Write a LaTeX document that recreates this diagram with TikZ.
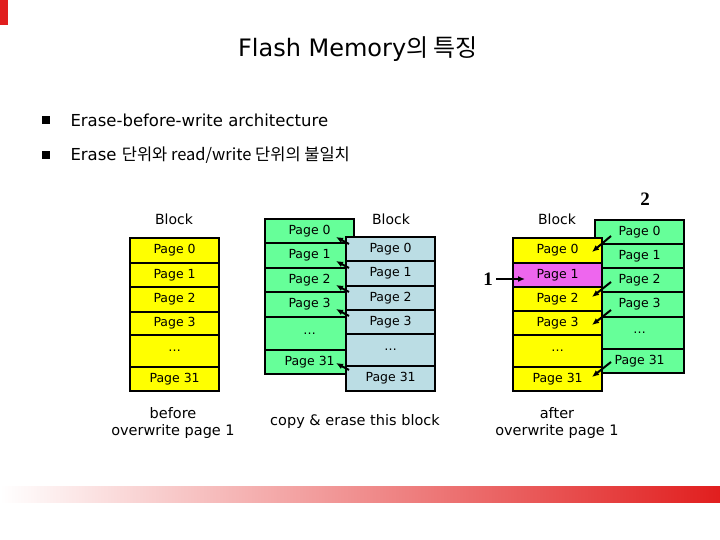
\documentclass[tikz,border=0pt]{standalone}
\usepackage{fontspec}
\setmainfont{DejaVu Sans}
\newfontfamily\kor{Noto Sans CJK KR}
\newfontfamily\numf{Liberation Serif}
\usetikzlibrary{positioning,arrows.meta}
\definecolor{cellyellow}{RGB}{255,255,0}
\definecolor{cellgreen}{RGB}{102,255,153}
\definecolor{cellblue}{RGB}{187,221,228}
\definecolor{cellpink}{RGB}{238,102,238}
\definecolor{barred}{RGB}{225,30,30}
\tikzset{
  cell/.style={draw, line width=2.2pt, minimum width=89pt, inner sep=0pt, font=\fontsize{12.5}{12}\selectfont, anchor=north west},
  head/.style={font=\fontsize{14}{14}\selectfont},
  caption/.style={font=\fontsize{14.5}{17}\selectfont, align=center},
  mover/.style={-{Latex[length=7pt,width=6pt]}, line width=2pt}
}
\newcommand{\blk}[5]{% name, x, top, fill, row heights
  \foreach \lab/\y/\h [count=\i] in {#5}
    \node[cell, fill=#4, minimum height=\h pt] (#1\i) at (#2, \y) {\lab};
}
\begin{document}
\begin{tikzpicture}[x=1pt, y=-1pt]
\useasboundingbox (0,0) rectangle (720,540);
\fill[barred] (0,0) rectangle (8,25);
\shade[left color=white, right color=barred] (0,486) rectangle (720,502);
\node[font=\fontsize{24}{26}\selectfont] (title) at (358,49) {Flash Memory\kor{의 특징}};
\node[font=\fontsize{16.5}{18}\selectfont, anchor=west] (b1) at (67,120) {Erase-before-write architecture};
\node[font=\fontsize{16.5}{18}\selectfont, anchor=west] (b2) at (67,155) {Erase \kor{단위와} read/write \kor{단위의 불일치}};
\fill (42,116) rectangle (50,124);
\fill (42,151) rectangle (50,159);
% before
\node[head] (h1) at (174,219) {Block};
\blk{a}{129}{237}{cellyellow}{Page 0/237/25, Page 1/262/24, Page 2/286/25, Page 3/311/23, \dots/334/32, Page 31/366/24}
\node[caption] (c1) at (173,423) {before\\overwrite page 1};
% copy
\blk{g}{264}{218}{cellgreen}{Page 0/218/24, Page 1/242/25, Page 2/267/24, Page 3/291/25, \dots/316/33, Page 31/349/24}
\node[head] (h2) at (391,219) {Block};
\blk{b}{345}{236}{cellblue}{Page 0/236/24, Page 1/260/25, Page 2/285/24, Page 3/309/24, \dots/333/32, Page 31/365/25}
\foreach \t in {237,261,285,309,363}
  \draw[mover] (349,\t+7) -- (336,\t);
\node[caption] (c2) at (355,421) {copy \& erase this block};
% after
\node[head] (h3) at (557,219) {Block};
\blk{r}{594}{219}{cellgreen}{Page 0/219/24, Page 1/243/24, Page 2/267/24, Page 3/291/25, \dots/316/32, Page 31/348/24}
\blk{y}{512}{237}{cellyellow}{Page 0/237/25, Page 1/262/24, Page 2/286/24, Page 3/310/24, \dots/334/32, Page 31/366/24}
\node[cell, fill=cellpink, minimum height=24pt] (y2) at (512,262) {Page 1};
\foreach \s/\t in {236/252,282/297,310/325,362/377}
  \draw[mover] (611,\s) -- (592,\t);
\node[font=\numf\bfseries\fontsize{19}{19}\selectfont] (n1) at (488,279) {1};
\coordinate (p1) at (525,279);
\draw[-{Latex[length=7pt,width=6pt]}, line width=1.5pt] (n1) -- (p1);
\node[font=\numf\bfseries\fontsize{19}{19}\selectfont] (n2) at (645,199) {2};
\node[caption] (c3) at (557,423) {after\\overwrite page 1};
\end{tikzpicture}
\end{document}
